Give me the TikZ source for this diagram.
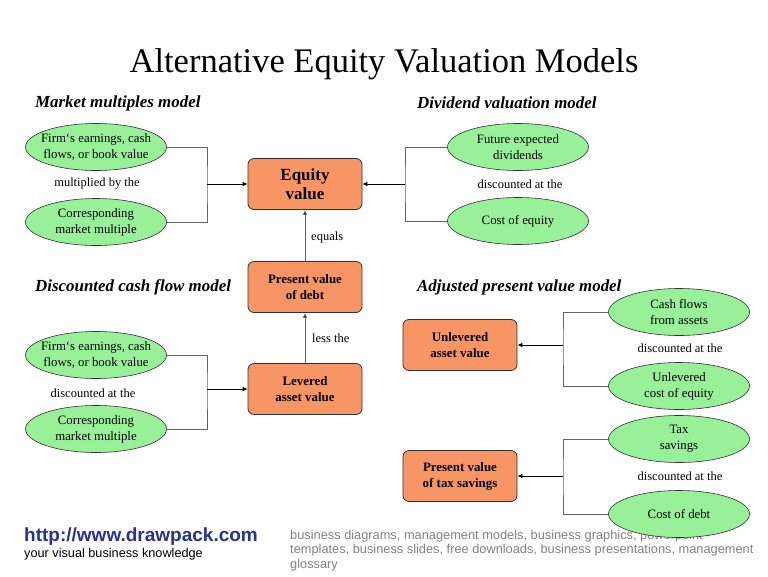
\documentclass[tikz,border=0pt]{standalone}
\usepackage{fontspec}
\setmainfont{Liberation Serif}
\newfontfamily\footfont{Liberation Sans}
\usetikzlibrary{arrows.meta,shapes.geometric}
\definecolor{ellgreen}{RGB}{152,240,152}
\definecolor{boxorange}{RGB}{247,150,100}
\definecolor{linkgray}{RGB}{100,100,100}
\definecolor{urlblue}{RGB}{40,50,150}
\definecolor{footgray}{RGB}{130,130,130}
\tikzset{
  ell/.style={ellipse,draw=black!80,fill=ellgreen,line width=0.6pt,minimum width=141pt,minimum height=47pt,inner xsep=-6pt,inner ysep=0pt,align=center,font=\fontsize{12.8}{16}\selectfont},
  valbox/.style={rectangle,rounded corners=6pt,draw=black!80,fill=boxorange,line width=0.8pt,minimum width=114pt,minimum height=51pt,inner sep=0pt,align=center,font=\bfseries\fontsize{12.9}{16}\selectfont},
  heading/.style={anchor=west,inner sep=0pt,font=\bfseries\itshape\fontsize{16.9}{19}\selectfont},
  lbl/.style={inner sep=0pt,font=\fontsize{12.5}{14}\selectfont},
  bracket/.style={draw=linkgray,line width=0.7pt},
  arr/.style={draw=black,line width=0.8pt,-{Latex[length=5pt,width=4.5pt]}},
  varr/.style={draw=linkgray,line width=0.8pt,-{Latex[length=5pt,width=4.5pt,fill=black]}}
}
\begin{document}
\begin{tikzpicture}[x=1pt,y=-1pt]
\useasboundingbox[fill=white] (0,0) rectangle (768,576);
% title
\node[inner sep=0pt,font=\fontsize{34.5}{40}\selectfont] (title) at (384,64) {Alternative Equity Valuation Models};
% headings
\node[heading] (h1) at (35,103) {Market multiples model};
\node[heading] (h2) at (417,103) {Dividend valuation model};
\node[heading] (h3) at (35,287) {Discounted cash flow model};
\node[heading] (h4) at (417,287) {Adjusted present value model};
% footer
\node[anchor=west,inner sep=0pt,text=urlblue,font=\footfont\bfseries\fontsize{19}{21}\selectfont] (url) at (24,537) {http://www.drawpack.com};
\node[anchor=west,inner sep=0pt,font=\footfont\fontsize{12.7}{14}\selectfont] (slogan) at (24,554) {your visual business knowledge};
\node[anchor=north west,inner sep=0pt,text=footgray,align=left,font=\footfont\fontsize{12.8}{14.5}\selectfont] (tags) at (290,530) {business diagrams, management models, business graphics, powerpoint\\templates, business slides, free downloads, business presentations, management\\glossary};
% boxes
\node[valbox,font=\bfseries\fontsize{17}{19}\selectfont] (eq) at (305,184) {Equity\\value};
\node[valbox] (pvd) at (305,287) {Present value\\of debt};
\node[valbox] (lev) at (305,389) {Levered\\asset value};
\node[valbox] (unl) at (460,345) {Unlevered\\asset value};
\node[valbox] (pvt) at (460,476) {Present value\\of tax savings};
% ellipses
\node[ell] (mm1) at (96,147) {Firm‘s earnings, cash\\flows, or book value};
\node[ell] (mm2) at (96,222) {Corresponding\\market multiple};
\node[ell] (dv1) at (518,147) {Future expected\\dividends};
\node[ell] (dv2) at (518,221) {Cost of equity};
\node[ell] (dc1) at (96,355) {Firm‘s earnings, cash\\flows, or book value};
\node[ell] (dc2) at (96,429) {Corresponding\\market multiple};
\node[ell] (ap1) at (679,312) {Cash flows\\from assets};
\node[ell] (ap2) at (679,386) {Unlevered\\cost of equity};
\node[ell] (ap3) at (679,439) {Tax\\savings};
\node[ell] (ap4) at (679,514) {Cost of debt};
% labels
\node[lbl] (l1) at (97,184) {multiplied by the};
\node[lbl] (l2) at (520,184) {discounted at the};
\node[lbl] (l3) at (93,393) {discounted at the};
\node[lbl] (l4) at (680,348) {discounted at the};
\node[lbl] (l5) at (680,476) {discounted at the};
\node[lbl,anchor=west] (l6) at (311,237) {equals};
\node[lbl,anchor=west] (l7) at (312,338) {less the};
% bracket points
\coordinate (bmm) at (207,184);
\coordinate (bdv) at (405,184);
\coordinate (bdc) at (207,389);
\coordinate (bap) at (563,345);
\coordinate (bat) at (563,476);
% connectors
\draw[bracket] (mm1.east) -| (bmm) |- (mm2.east);
\draw[arr] (bmm) -- (eq.west);
\draw[bracket] (dv1.west) -| (bdv) |- (dv2.west);
\draw[arr] (bdv) -- (eq.east);
\draw[bracket] (dc1.east) -| (bdc) |- (dc2.east);
\draw[arr] (bdc) -- (lev.west);
\draw[bracket] (ap1.west) -| (bap) |- (ap2.west);
\draw[arr] (bap) -- (unl.east);
\draw[bracket] (ap3.west) -| (bat) |- (ap4.west);
\draw[arr] (bat) -- (pvt.east);
\draw[varr] (pvd.north) -- (eq.south);
\draw[varr] (lev.north) -- (pvd.south);
\end{tikzpicture}
\end{document}
